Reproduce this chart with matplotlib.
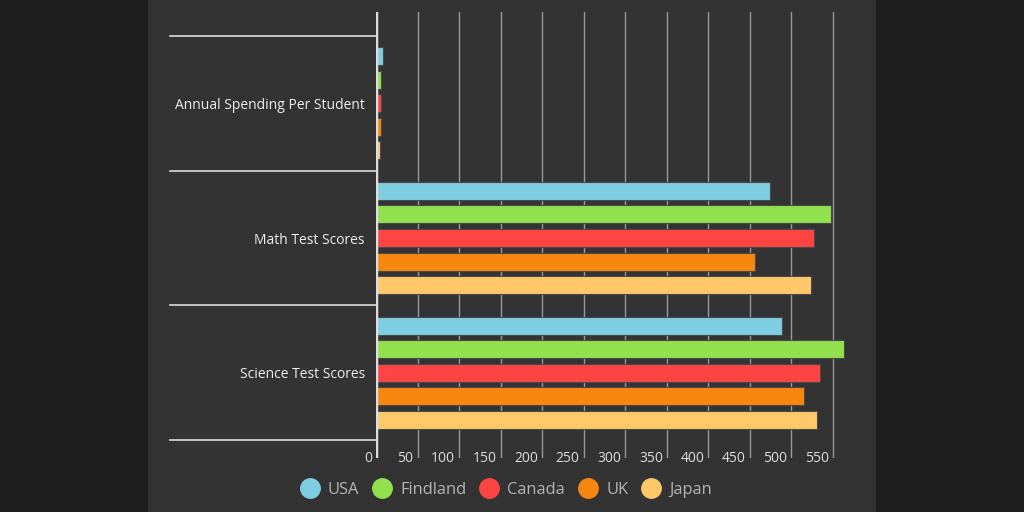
import numpy as np
import matplotlib
matplotlib.use("Agg")
import matplotlib.pyplot as plt
from matplotlib.patches import Rectangle
from matplotlib.lines import Line2D

plt.rcParams["font.family"] = ["Open Sans", "DejaVu Sans"]

# Data
categories = ["Annual Spending Per Student", "Math Test Scores", "Science Test Scores"]
countries = ["USA", "Findland", "Canada", "UK", "Japan"]
usa = [9, 474, 489]
finland = [6.5, 548, 563]
canada = [6.5, 527, 534]
uk = [6.5, 456, 515]
japan = [5, 523, 531]
series = [usa, finland, canada, uk, japan]
colors = ["#7fcde0", "#91e04e", "#ff4444", "#f7870e", "#ffc86b"]
xticks = list(range(0, 551, 50))

W, H = 1024, 512
fig = plt.figure(figsize=(W / 100, H / 100), dpi=100)
fig.patch.set_facecolor("#1e1e1e")
fig.patches.append(Rectangle((148 / W, 0), (876 - 148) / W, 1, transform=fig.transFigure,
                             facecolor="#333333", edgecolor="none", zorder=-5))

# 0 at x=376px, 550 at x=833px
ppu = (833 - 376) / 550
right_px = 860
ax = fig.add_axes([376 / W, 1 - 458 / H, (right_px - 376) / W, (458 - 12) / H])
ax.set_facecolor("none")
ax.set_zorder(2)

band = 134.5
ax.set_xlim(0, (right_px - 376) / ppu)
ax.set_ylim(2.5 + 18 / band, -0.5 - 24 / band)

y = np.arange(len(categories))
step = 23.5 / band
h = 18 / band
for i, (vals, c, name) in enumerate(zip(series, colors, countries)):
    ax.barh(y + (i - 2) * step, vals, height=h, color=c, edgecolor="#4a4a4a",
            linewidth=0.8, label=name, zorder=3)

# gridlines
for t in xticks[1:]:
    ax.axvline(t, color="#9a9a9a", linewidth=1, zorder=1)
ax.axvline(0, color="#dddddd", linewidth=2.5, zorder=4)

for s in ax.spines.values():
    s.set_visible(False)
ax.set_xticks([])
ax.set_yticks([])

# tick labels (right aligned to gridline)
for t in xticks:
    ax.text(t - 4 / ppu, 2.5 + 18 / band, str(t), ha="right", va="center",
            color="#dddddd", fontsize=10)

# category separators and labels
for b in [-0.5, 0.5, 1.5, 2.5]:
    ax.plot([(170 - 376) / ppu, 0], [b, b], color="#dddddd", linewidth=1.2,
            clip_on=False, zorder=2)
for yi, cat in zip(y, categories):
    ax.text(-11 / ppu, yi + 2 / band, cat, ha="right", va="center",
            color="#eeeeee", fontsize=10)

handles = [Line2D([], [], marker="o", linestyle="none", markersize=14,
                  markerfacecolor=c, markeredgecolor=c) for c in colors]
fig.legend(handles, countries, loc="center", bbox_to_anchor=(506 / W, 1 - 490 / H),
           ncol=5, frameon=False, fontsize=11.8, labelcolor="#b4b4b4",
           handletextpad=0.5, columnspacing=0.8, handlelength=1.2)

fig.savefig("out.png", dpi=100, facecolor=fig.get_facecolor())
